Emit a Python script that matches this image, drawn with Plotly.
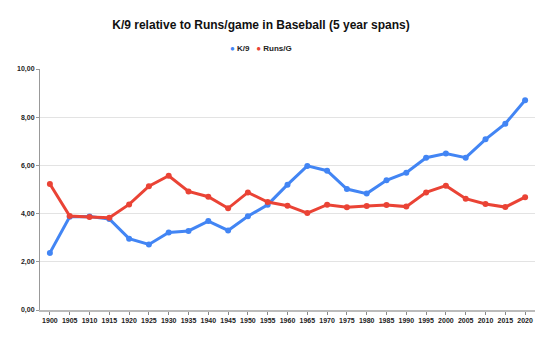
import plotly.graph_objects as go

years = [1900, 1905, 1910, 1915, 1920, 1925, 1930, 1935, 1940, 1945, 1950, 1955,
         1960, 1965, 1970, 1975, 1980, 1985, 1990, 1995, 2000, 2005, 2010, 2015, 2020]
k9 = [2.37, 3.87, 3.88, 3.78, 2.96, 2.72, 3.22, 3.28, 3.69, 3.30, 3.89, 4.37,
      5.20, 5.98, 5.78, 5.02, 4.83, 5.38, 5.70, 6.32, 6.49, 6.32, 7.08, 7.73, 8.70]
runs_g = [5.23, 3.90, 3.86, 3.83, 4.38, 5.14, 5.57, 4.92, 4.70, 4.22, 4.88, 4.48,
          4.33, 4.02, 4.37, 4.26, 4.32, 4.36, 4.29, 4.88, 5.16, 4.62, 4.40, 4.27, 4.68]
yticks = [0, 2, 4, 6, 8, 10]

BLUE = "#4285F4"
RED = "#EA4335"

fig = go.Figure()
for name, vals, col in [("K/9", k9, BLUE), ("Runs/G", runs_g, RED)]:
    fig.add_trace(go.Scatter(x=years, y=vals, mode="lines+markers", name=name,
                             line=dict(color=col, width=3),
                             marker=dict(color=col, size=6),
                             showlegend=False))

legend_txt = (f"<span style='color:{BLUE}'>●</span> <b>K/9</b>   "
              f"<span style='color:{RED}'>●</span> <b>Runs/G</b>")
fig.add_annotation(text=legend_txt, xref="paper", yref="paper",
                   x=(261-40)/495, y=1 + 21/241, xanchor="center", yanchor="middle",
                   showarrow=False, font=dict(size=8, color="#222"))

fig.update_layout(
    width=552, height=341,
    margin=dict(l=40, r=17, t=69, b=31),
    paper_bgcolor="white", plot_bgcolor="white",
    showlegend=False,
    font=dict(family="Liberation Sans, Arial, sans-serif", color="#222"),
    title=dict(text="<b>K/9 relative to Runs/game in Baseball (5 year spans)</b>",
               x=261/552, xref="container", xanchor="center",
               y=1 - 25/341, yref="container", yanchor="middle",
               font=dict(size=12, color="#111")),
    xaxis=dict(range=[1897.5, 2022.5], tickvals=years,
               ticktext=[f"<b>{y}</b>" for y in years],
               tickfont=dict(size=7, color="#222"),
               showgrid=False, showline=True, linecolor="#bbbbbb", linewidth=2,
               ticks="outside", ticklen=3, tickcolor="#888", zeroline=False),
    yaxis=dict(range=[0, 10], tickvals=yticks,
               ticktext=[f"<b>{v:.2f}</b>".replace(".", ",") for v in yticks],
               tickfont=dict(size=7, color="#222"),
               showgrid=True, gridcolor="#e3e3e3", gridwidth=1,
               showline=True, linecolor="#999999", linewidth=1,
               ticks="outside", ticklen=3, tickcolor="#999", zeroline=False),
)

fig.write_html("out.html")
